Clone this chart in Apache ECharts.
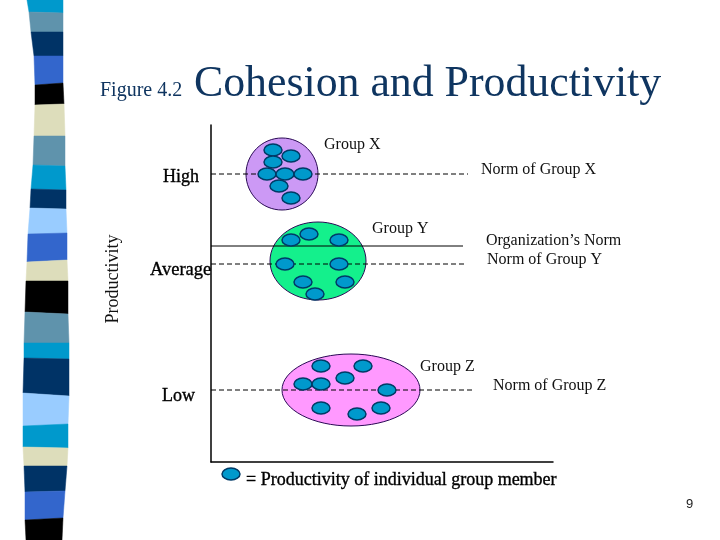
<!DOCTYPE html>
<html>
<head>
<meta charset="utf-8">
<script src="https://cdn.jsdelivr.net/npm/echarts@6/dist/echarts.min.js"></script>
<style>html,body{margin:0;padding:0;background:#fff}#c{width:720px;height:540px}</style>
</head>
<body>
<div id="c"></div>
<script>
// Productivity scale: x = position along the plot, y = productivity
const groupBlobs = [
  [71, 288, 72, 72],
  [107, 201, 96, 78],
  [140, 72, 138, 72]
];
const groupColors = ['#CC99F5', '#14F08C', '#FF99FF'];
const membersX = [[62,312],[80,306],[62,300],[56,288],[74,288],[92,288],[68,276],[80,264]];
const membersY = [[80,222],[98,228],[128,222],[74,198],[128,198],[92,180],[134,180],[104,168]];
const membersZ = [[110,96],[152,96],[134,84],[92,78],[110,78],[176,72],[110,54],[170,54],[146,48]];
const legendMember = [[20,-12]];
const normX = [[0,288],[257,288]];
const normY = [[0,198],[256,198]];
const normZ = [[0,72],[263,72]];
const orgNorm = [[0,216],[252,216]];
const stripeColors = ['#0099CC','#5F93AC','#003366','#3366CC','#000000','#DDDDBB','#5F93AC','#0099CC','#003366','#99CCFF','#3366CC','#DDDDBB','#000000','#5F93AC','#0099CC','#003366','#99CCFF','#0099CC','#DDDDBB','#003366','#3366CC','#000000'];
const stripeEdges = [[0,0,27,63],[12,13,29,63],[32,32,31,63],[56,56,34,63],[85,83,35,63],[105,104,35,64],[136,136,34,65],[165,166,33,65],[189,190,31,66],[208,209,30,66],[234,233,28,67],[262,260,27,67],[281,281,26,68],[312,314,25,68],[343,343,24,69],[358,359,24,69],[393,396,23,69],[426,424,23,68],[447,448,23,68],[466,466,24,67],[492,491,25,65],[520,518,25,63],[540,540,26,62]];
const serif = '"Liberation Serif","Times New Roman",serif';
const navy = '#0F3560';
// text, x, y, size, heavy, colour
const texts = [
  ['Figure 4.2', 100, 91, 20, false, navy],
  ['Cohesion and Productivity', 194, 84, 43.8, false, navy],
  ['Group X', 324, 145, 16, false, '#111'],
  ['Norm of Group X', 481, 170, 16, false, '#111'],
  ['Group Y', 372, 229, 16, false, '#111'],
  ['Organization\u2019s Norm', 486, 241, 16, false, '#111'],
  ['Norm of Group Y', 487, 260, 16, false, '#111'],
  ['Group Z', 420, 367, 16, false, '#111'],
  ['Norm of Group Z', 493, 386, 16, false, '#111'],
  ['High', 163, 177, 18, true, '#000'],
  ['Average', 150, 270, 18.5, true, '#000'],
  ['Low', 162, 396, 18, true, '#000'],
  ['= Productivity of individual group member', 246, 480, 18, true, '#000']
];

const graphics = [];
stripeColors.forEach((color, i) => {
  const a = stripeEdges[i], b = stripeEdges[i + 1];
  graphics.push({
    type: 'polygon', silent: true,
    shape: { points: [[a[2], a[0]], [a[3], a[1]], [b[3], b[1]], [b[2], b[0]]] },
    style: { fill: color, stroke: color, lineWidth: 0.5 }
  });
});
texts.forEach(t => {
  graphics.push({
    type: 'text', silent: true, x: t[1], y: t[2],
    style: { text: t[0], fontFamily: serif, fontSize: t[3], fill: t[5], textAlign: 'left', textVerticalAlign: 'middle',
      stroke: t[4] ? t[5] : null, lineWidth: t[4] ? 0.35 : 0 }
  });
});
graphics.push({
  type: 'text', silent: true, x: 686, y: 504,
  style: { text: '9', fontFamily: '"Liberation Sans",Arial,sans-serif', fontSize: 13, fill: '#222', textVerticalAlign: 'middle' }
});

function ellipseSeries(data, z, fillOf, stroke, lw) {
  return {
    type: 'custom', coordinateSystem: 'cartesian2d', z, clip: false, silent: true,
    encode: { x: 0, y: 1 }, data,
    renderItem(params, api) {
      const c = api.coord([api.value(0), api.value(1)]);
      return {
        type: 'ellipse',
        shape: { cx: c[0], cy: c[1], rx: api.value(2) / 2, ry: api.value(3) / 2 },
        style: { fill: fillOf(params.dataIndex), stroke, lineWidth: lw }
      };
    }
  };
}
const memberSize = m => [m[0], m[1], 18, 12];
function members(arr) {
  return ellipseSeries(arr.map(memberSize), 6, () => '#0099CC', '#003A66', 1.5);
}
function norm(data, dashed) {
  return {
    type: 'line', data, z: 4, symbol: 'none', silent: true, clip: false,
    lineStyle: { color: '#000', width: 1, type: dashed ? [5, 3] : 'solid' }
  };
}

const option = {
  animation: false,
  backgroundColor: '#fff',
  grid: { left: 211, top: 125, width: 342, height: 337 },
  xAxis: {
    type: 'value', min: 0, max: 342, splitLine: { show: false },
    axisLine: { show: true, onZero: false, lineStyle: { color: '#000', width: 1.5 } },
    axisTick: { show: false }, axisLabel: { show: false }
  },
  yAxis: {
    type: 'value', min: 0, max: 337, splitLine: { show: false },
    axisLine: { show: true, onZero: false, lineStyle: { color: '#000', width: 1.5 } },
    axisTick: { show: false }, axisLabel: { show: false },
    name: 'Productivity', nameLocation: 'middle', nameGap: 89,
    nameTextStyle: { fontFamily: serif, fontSize: 18, color: '#111', padding: [0, 0, 0, 29] }
  },
  graphic: graphics,
  series: [
    ellipseSeries(groupBlobs, 2, i => groupColors[i], '#2A0A55', 1),
    norm(normX, true), norm(normY, true), norm(normZ, true), norm(orgNorm, false),
    members(membersX), members(membersY), members(membersZ), members(legendMember)
  ]
};
const chart = echarts.init(document.getElementById('c'));
chart.setOption(option);
</script>
</body>
</html>
